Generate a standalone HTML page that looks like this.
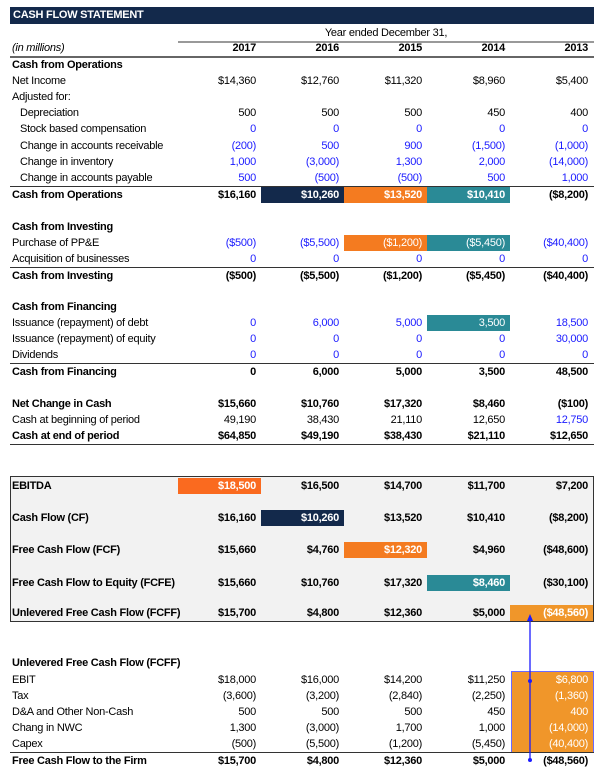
<!DOCTYPE html>
<html><head><meta charset="utf-8"><style>
body{margin:0;width:601px;height:778px;background:#fff;position:relative;font-family:"Liberation Sans",sans-serif;font-size:11px;letter-spacing:-0.25px;color:#000;overflow:hidden}
.r{position:absolute;left:0;width:601px;height:16px;line-height:16px;display:flex}
.l{width:166px;padding-left:12px;white-space:nowrap}
.i{padding-left:20px;width:158px}
.c{width:78px;padding-right:5px;text-align:right;white-space:nowrap}
.b{font-weight:bold}
.bl{color:#1a1aff}
.nv{background:#13294b;color:#fff}.or{background:#f47b20;color:#fff}.tl{background:#2a8a96;color:#fff}.eo{background:#fa6a1f;color:#fff}.lo{background:#f0962a;color:#fff}
.ln{position:absolute;height:0;border-top:1px solid #333}
</style></head><body>
<div style="position:absolute;left:10px;top:7px;width:584px;height:17px;background:#13294b;color:#fff;font-weight:bold;line-height:17px;padding-left:3px;box-sizing:border-box">CASH FLOW STATEMENT</div>
<div style="position:absolute;left:178px;width:416px;top:25px;text-align:center;line-height:16px">Year ended December 31,</div>
<div class="ln" style="left:178px;width:416px;top:41px;border-top:2px solid #999"></div>
<div class="r" style="top:40px"><span class="l" style="font-style:italic">(in millions)</span><span class="c b">2017</span><span class="c b">2016</span><span class="c b">2015</span><span class="c b">2014</span><span class="c b">2013</span></div>
<div class="ln" style="left:10px;width:584px;top:56px;border-top:2px solid #666"></div>
<div class="r b" style="top:57px"><span class="l">Cash from Operations</span></div>
<div class="r" style="top:73px"><span class="l">Net Income</span><span class="c">$14,360</span><span class="c">$12,760</span><span class="c">$11,320</span><span class="c">$8,960</span><span class="c">$5,400</span></div>
<div class="r" style="top:89px"><span class="l">Adjusted for:</span></div>
<div class="r" style="top:105px"><span class="l i">Depreciation</span><span class="c">500</span><span class="c">500</span><span class="c">500</span><span class="c">450</span><span class="c">400</span></div>
<div class="r" style="top:121px"><span class="l i">Stock based compensation</span><span class="c bl">0</span><span class="c bl">0</span><span class="c bl">0</span><span class="c bl">0</span><span class="c bl">0</span></div>
<div class="r" style="top:138px"><span class="l i">Change in accounts receivable</span><span class="c bl">(200)</span><span class="c bl">500</span><span class="c bl">900</span><span class="c bl">(1,500)</span><span class="c bl">(1,000)</span></div>
<div class="r" style="top:154px"><span class="l i">Change in inventory</span><span class="c bl">1,000</span><span class="c bl">(3,000)</span><span class="c bl">1,300</span><span class="c bl">2,000</span><span class="c bl">(14,000)</span></div>
<div class="r" style="top:170px"><span class="l i">Change in accounts payable</span><span class="c bl">500</span><span class="c bl">(500)</span><span class="c bl">(500)</span><span class="c bl">500</span><span class="c bl">1,000</span></div>
<div class="ln" style="left:10px;width:584px;top:186px"></div>
<div class="r b" style="top:187px"><span class="l">Cash from Operations</span><span class="c">$16,160</span><span class="c nv">$10,260</span><span class="c or">$13,520</span><span class="c tl">$10,410</span><span class="c">($8,200)</span></div>

<div class="r b" style="top:219px"><span class="l">Cash from Investing</span></div>
<div class="r" style="top:235px"><span class="l">Purchase of PP&amp;E</span><span class="c bl">($500)</span><span class="c bl">($5,500)</span><span class="c or">($1,200)</span><span class="c tl">($5,450)</span><span class="c bl">($40,400)</span></div>
<div class="r" style="top:251px"><span class="l">Acquisition of businesses</span><span class="c bl">0</span><span class="c bl">0</span><span class="c bl">0</span><span class="c bl">0</span><span class="c bl">0</span></div>
<div class="ln" style="left:10px;width:584px;top:267px"></div>
<div class="r b" style="top:268px"><span class="l">Cash from Investing</span><span class="c">($500)</span><span class="c">($5,500)</span><span class="c">($1,200)</span><span class="c">($5,450)</span><span class="c">($40,400)</span></div>

<div class="r b" style="top:299px"><span class="l">Cash from Financing</span></div>
<div class="r" style="top:315px"><span class="l">Issuance (repayment) of debt</span><span class="c bl">0</span><span class="c bl">6,000</span><span class="c bl">5,000</span><span class="c tl">3,500</span><span class="c bl">18,500</span></div>
<div class="r" style="top:331px"><span class="l">Issuance (repayment) of equity</span><span class="c bl">0</span><span class="c bl">0</span><span class="c bl">0</span><span class="c bl">0</span><span class="c bl">30,000</span></div>
<div class="r" style="top:347px"><span class="l">Dividends</span><span class="c bl">0</span><span class="c bl">0</span><span class="c bl">0</span><span class="c bl">0</span><span class="c bl">0</span></div>
<div class="ln" style="left:10px;width:584px;top:363px"></div>
<div class="r b" style="top:364px"><span class="l">Cash from Financing</span><span class="c">0</span><span class="c">6,000</span><span class="c">5,000</span><span class="c">3,500</span><span class="c">48,500</span></div>

<div class="r b" style="top:396px"><span class="l">Net Change in Cash</span><span class="c">$15,660</span><span class="c">$10,760</span><span class="c">$17,320</span><span class="c">$8,460</span><span class="c">($100)</span></div>
<div class="r" style="top:412px"><span class="l">Cash at beginning of period</span><span class="c">49,190</span><span class="c">38,430</span><span class="c">21,110</span><span class="c">12,650</span><span class="c bl">12,750</span></div>
<div class="r b" style="top:428px"><span class="l">Cash at end of period</span><span class="c">$64,850</span><span class="c">$49,190</span><span class="c">$38,430</span><span class="c">$21,110</span><span class="c">$12,650</span></div>
<div class="ln" style="left:10px;width:584px;top:444px"></div>

<div style="position:absolute;left:10px;top:476px;width:584px;height:146px;background:#f2f2f2;border:1.5px solid #333;box-sizing:border-box"></div>
<div class="r b" style="top:478px"><span class="l">EBITDA</span><span class="c eo">$18,500</span><span class="c">$16,500</span><span class="c">$14,700</span><span class="c">$11,700</span><span class="c">$7,200</span></div>
<div class="r b" style="top:510px"><span class="l">Cash Flow (CF)</span><span class="c">$16,160</span><span class="c nv">$10,260</span><span class="c">$13,520</span><span class="c">$10,410</span><span class="c">($8,200)</span></div>
<div class="r b" style="top:542px"><span class="l">Free Cash Flow (FCF)</span><span class="c">$15,660</span><span class="c">$4,760</span><span class="c or">$12,320</span><span class="c">$4,960</span><span class="c">($48,600)</span></div>
<div class="r b" style="top:575px"><span class="l">Free Cash Flow to Equity (FCFE)</span><span class="c">$15,660</span><span class="c">$10,760</span><span class="c">$17,320</span><span class="c tl">$8,460</span><span class="c">($30,100)</span></div>
<div class="r b" style="top:605px;height:16px"><span class="l">Unlevered Free Cash Flow (FCFF)</span><span class="c">$15,700</span><span class="c">$4,800</span><span class="c">$12,360</span><span class="c">$5,000</span><span class="c lo">($48,560)</span></div>

<div class="r b" style="top:655px"><span class="l">Unlevered Free Cash Flow (FCFF)</span></div>
<div style="position:absolute;left:511px;top:671px;width:83px;height:82px;background:#f0962a;border:1px solid #6a6aff;box-sizing:border-box"></div>
<div class="r" style="top:672px"><span class="l">EBIT</span><span class="c">$18,000</span><span class="c">$16,000</span><span class="c">$14,200</span><span class="c">$11,250</span><span class="c" style="color:#fff">$6,800</span></div>
<div class="r" style="top:688px"><span class="l">Tax</span><span class="c">(3,600)</span><span class="c">(3,200)</span><span class="c">(2,840)</span><span class="c">(2,250)</span><span class="c" style="color:#fff">(1,360)</span></div>
<div class="r" style="top:704px"><span class="l">D&amp;A and Other Non-Cash</span><span class="c">500</span><span class="c">500</span><span class="c">500</span><span class="c">450</span><span class="c" style="color:#fff">400</span></div>
<div class="r" style="top:720px"><span class="l">Chang in NWC</span><span class="c">1,300</span><span class="c">(3,000)</span><span class="c">1,700</span><span class="c">1,000</span><span class="c" style="color:#fff">(14,000)</span></div>
<div class="r" style="top:736px"><span class="l">Capex</span><span class="c">(500)</span><span class="c">(5,500)</span><span class="c">(1,200)</span><span class="c">(5,450)</span><span class="c" style="color:#fff">(40,400)</span></div>
<div class="ln" style="left:10px;width:584px;top:752px"></div>
<div class="r b" style="top:753px"><span class="l">Free Cash Flow to the Firm</span><span class="c">$15,700</span><span class="c">$4,800</span><span class="c">$12,360</span><span class="c">$5,000</span><span class="c">($48,560)</span></div>

<svg style="position:absolute;left:0;top:0" width="601" height="778">
<line x1="530" y1="618" x2="530" y2="760" stroke="#1a1aff" stroke-width="1.3"/>
<polygon points="530,614 527,621 533,621" fill="#1a1aff"/>
<circle cx="530" cy="681" r="2" fill="#1a1aff"/>
<circle cx="530" cy="760" r="2" fill="#1a1aff"/>
</svg>
</body></html>
